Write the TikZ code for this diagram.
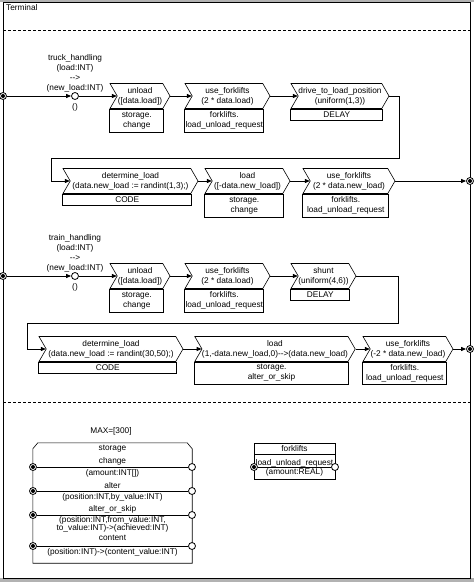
\documentclass[tikz,border=0pt]{standalone}
\usepackage{fontspec}
\newfontfamily\dfont{Liberation Sans}[Ligatures=TeXOff]
\usetikzlibrary{arrows.meta,shapes.symbols,positioning}
\tikzset{every node/.style={font=\dfont\fontsize{8.3}{10}\selectfont}}
\begin{document}
\begin{tikzpicture}[x=1pt,y=-1pt,
  hdr/.style={draw, line width=0.6pt, signal, signal from=west, signal to=east, signal pointer angle=120, minimum height=25, inner sep=0pt, align=center},
  low/.style={draw, line width=0.6pt, rectangle, inner sep=0pt, align=center, anchor=north west},
  flow/.style={line width=1pt, -{Triangle[length=5pt,width=4pt]}},
  gate/.style={circle, draw, line width=0.8pt, fill=white, minimum size=7, inner sep=0pt, path picture={\fill[black] (path picture bounding box.center) circle[radius=2pt];}},
  ring/.style={circle, draw, line width=0.8pt, fill=white, minimum size=7, inner sep=0pt},
  lbl/.style={align=center, inner sep=0pt}]
\useasboundingbox (0,0) rectangle (474,582);
\fill[black!30] (0,0) rectangle (474,2);
\fill[black!30] (0,578) rectangle (474,582);
\draw[line width=0.8pt] (3,2) rectangle (470.5,578);
\node[lbl, anchor=west] (title) at (6,8) {Terminal};
\draw[densely dashed, line width=0.5pt] (3,30) -- (470.5,30);
\draw[densely dashed, line width=0.5pt] (3,402) -- (470.5,402);
% truck handling
\node[gate] (tin) at (3,96) {};
\node[ring] (tstart) at (75,96) {};
\node[lbl, anchor=south] (tsig) at (75,92) {truck\_handling\\(load:INT)\\-->\\(new\_load:INT)};
\node[lbl] (tret) at (75,107) {()};
\node[hdr, minimum width=60] (tu1) at (140,96) {unload\\([data.load])};
\node[low, minimum width=54, minimum height=23] (tu1b) at (tu1.south west) {storage.\\change};
\node[hdr, minimum width=85] (tu2) at (227.5,96) {use\_forklifts\\(2 * data.load)};
\node[low, minimum width=79, minimum height=23] (tu2b) at (tu2.south west) {forklifts.\\load\_unload\_request};
\node[hdr, minimum width=98] (tu3) at (340,96) {drive\_to\_load\_position\\(uniform(1,3))};
\node[low, minimum width=92, minimum height=11] (tu3b) at (tu3.south west) {DELAY};
\node[hdr, minimum width=135] (td1) at (130.5,181) {determine\_load\\(data.new\_load := randint(1,3);)};
\node[low, minimum width=129, minimum height=11] (td1b) at (td1.south west) {CODE};
\node[hdr, minimum width=85] (td2) at (247.5,181) {load\\([-data.new\_load])};
\node[low, minimum width=79, minimum height=23] (td2b) at (td2.south west) {storage.\\change};
\node[hdr, minimum width=92] (td3) at (349,181) {use\_forklifts\\(2 * data.new\_load)};
\node[low, minimum width=86, minimum height=23] (td3b) at (td3.south west) {forklifts.\\load\_unload\_request};
\node[gate] (tout) at (470,181) {};
\draw[flow] (tin) -- (tstart);
\draw[flow] (tstart) -- (tu1.west);
\draw[flow] (tu1.east) -- (tu2.west);
\draw[flow] (tu2.east) -- (tu3.west);
\draw[flow] (tu3.east) -- (399,96) -- (399,158) -- (51,158) |- (td1.west);
\draw[flow] (td1.east) -- (td2.west);
\draw[flow] (td2.east) -- (td3.west);
\draw[flow] (td3.east) -- (tout);
% train handling
\node[gate] (rin) at (3,276) {};
\node[ring] (rstart) at (75,276) {};
\node[lbl, anchor=south] (rsig) at (75,272) {train\_handling\\(load:INT)\\-->\\(new\_load:INT)};
\node[lbl] (rret) at (75,287) {()};
\node[hdr, minimum width=60] (ru1) at (140,276) {unload\\([data.load])};
\node[low, minimum width=54, minimum height=23] (ru1b) at (ru1.south west) {storage.\\change};
\node[hdr, minimum width=85] (ru2) at (227.5,276) {use\_forklifts\\(2 * data.load)};
\node[low, minimum width=79, minimum height=23] (ru2b) at (ru2.south west) {forklifts.\\load\_unload\_request};
\node[hdr, minimum width=65] (ru3) at (323.5,276) {shunt\\(uniform(4,6))};
\node[low, minimum width=59, minimum height=11] (ru3b) at (ru3.south west) {DELAY};
\node[hdr, minimum width=144] (rd1) at (111,349) {determine\_load\\(data.new\_load := randint(30,50);)};
\node[low, minimum width=138, minimum height=11] (rd1b) at (rd1.south west) {CODE};
\node[hdr, minimum width=160] (rd2) at (275,349) {load\\(1,-data.new\_load,0)-->(data.new\_load)};
\node[low, minimum width=154, minimum height=22] (rd2b) at (rd2.south west) {storage.\\alter\_or\_skip};
\node[hdr, minimum width=90] (rd3) at (408,349) {use\_forklifts\\(-2 * data.new\_load)};
\node[low, minimum width=84, minimum height=22] (rd3b) at (rd3.south west) {forklifts.\\load\_unload\_request};
\node[gate] (rout) at (470,349) {};
\draw[flow] (rin) -- (rstart);
\draw[flow] (rstart) -- (ru1.west);
\draw[flow] (ru1.east) -- (ru2.west);
\draw[flow] (ru2.east) -- (ru3.west);
\draw[flow] (ru3.east) -- (398,276) -- (398,323) -- (27,323) |- (rd1.west);
\draw[flow] (rd1.east) -- (rd2.west);
\draw[flow] (rd2.east) -- (rd3.west);
\draw[flow] (rd3.east) -- (rout);
% storage
\node[lbl] (max) at (111,431) {MAX=[300]};
\node[rectangle, inner sep=0pt, minimum width=159, minimum height=120] (storage) at (112.5,503) {};
\draw[line width=0.6pt] ([yshift=-6pt]storage.north west) -- ([xshift=5pt]storage.north west)
  -- ([xshift=-5pt]storage.north east) -- ([yshift=-6pt]storage.north east)
  -- (storage.south east) -- (storage.south west) -- cycle;
\node[lbl] (stname) at (112.5,449) {storage};
\node[lbl] (stc) at (112.5,461) {change};
\node[lbl] (stcarg) at (112.5,473) {(amount:INT[])};
\node[lbl] (sta) at (112.5,486) {alter};
\node[lbl] (staarg) at (112.5,497) {(position:INT,by\_value:INT)};
\node[lbl] (sts) at (112.5,509) {alter\_or\_skip};
\node[lbl, font=\dfont\fontsize{8.3}{8}\selectfont] (stsarg) at (112.5,524) {(position:INT,from\_value:INT,\\to\_value:INT)->(achieved:INT)};
\node[lbl] (stk) at (112.5,538) {content};
\node[lbl] (stkarg) at (112.5,552) {(position:INT)->(content\_value:INT)};
\foreach \y/\n in {467/1,491/2,515/3,546/4} {
  \node[gate] (sl\n) at (33,\y) {};
  \node[ring] (sr\n) at (192,\y) {};
  \draw[line width=0.6pt] (sl\n) -- (sr\n);
}
% forklifts
\node[draw, line width=0.6pt, minimum width=81, minimum height=11, inner sep=0pt] (fkhead) at (294.5,448.5) {forklifts};
\node[draw, line width=0.6pt, minimum width=81, minimum height=25, inner sep=0pt, anchor=north] (fkbody) at (fkhead.south) {};
\node[gate] (fkl) at (254,467) {};
\node[ring] (fkr) at (335,467) {};
\draw[line width=0.6pt] (fkl) -- (fkr);
\node[lbl] (fkreq) at (294.5,463) {load\_unload\_request};
\node[lbl] (fkarg) at (294.5,472) {(amount:REAL)};
\end{tikzpicture}
\end{document}
